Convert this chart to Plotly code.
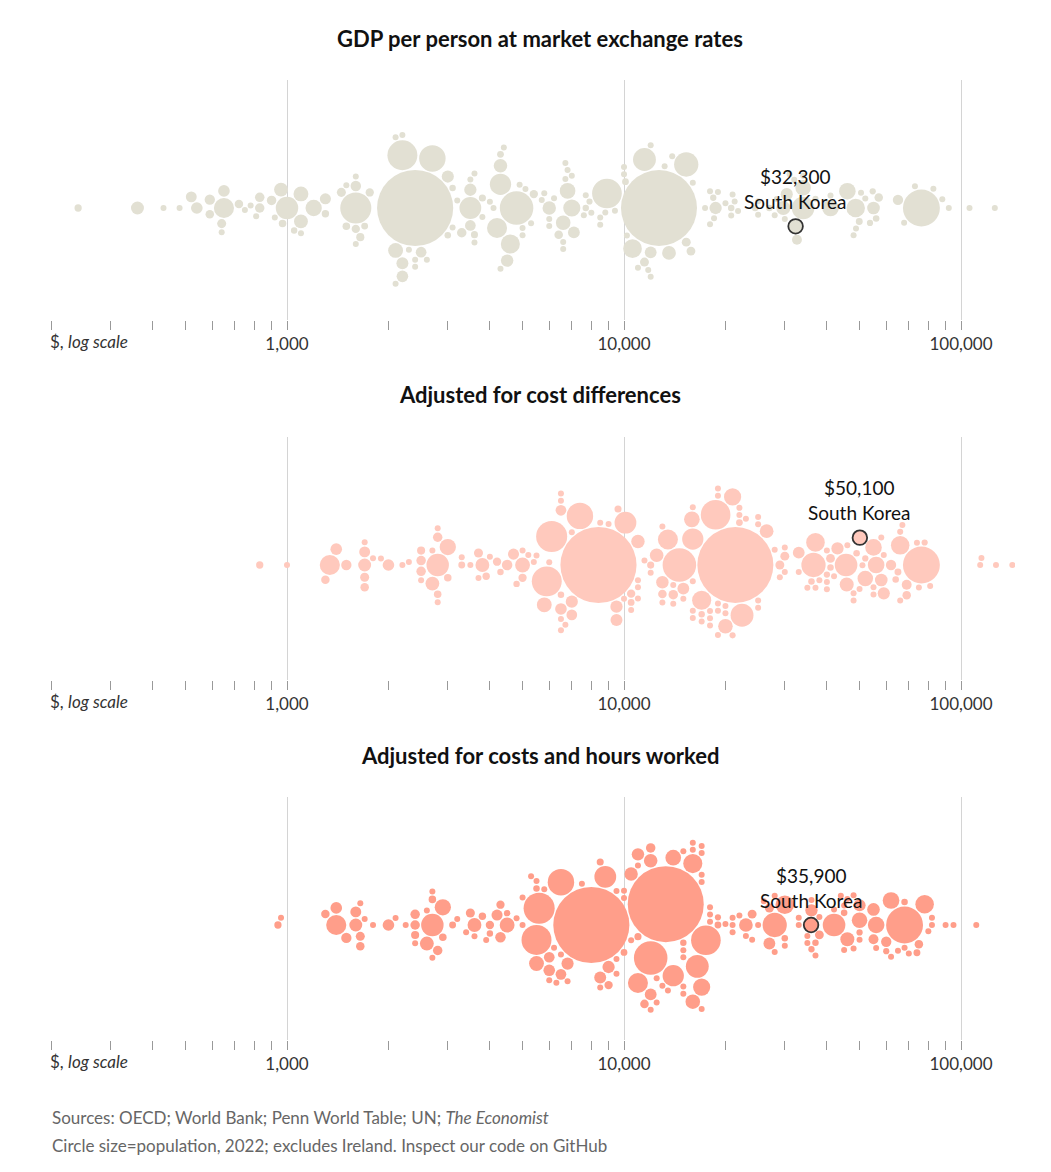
import math
import plotly.graph_objects as go

# name, population (m), GDP per person market $, PPP-adjusted $, adjusted for costs and hours $
names = ["China","India","United States","Indonesia","Pakistan","Nigeria","Brazil","Bangladesh","Russia","Mexico",
"Japan","Ethiopia","Philippines","Egypt","DR Congo","Vietnam","Iran","Turkey","Germany","Thailand",
"Britain","France","Tanzania","South Africa","Italy","Kenya","Myanmar","Colombia","South Korea","Uganda",
"Sudan","Spain","Argentina","Algeria","Iraq","Afghanistan","Poland","Canada","Morocco","Saudi Arabia",
"Ukraine","Angola","Uzbekistan","Yemen","Peru","Malaysia","Ghana","Mozambique","Nepal","Madagascar",
"Venezuela","Ivory Coast","Cameroon","Australia","Niger","Taiwan","Sri Lanka","Burkina Faso","Mali","Chile",
"Romania","Kazakhstan","Malawi","Zambia","Syria","Ecuador","Netherlands","Senegal","Guatemala","Chad",
"Somalia","Zimbabwe","Cambodia","Rwanda","Guinea","Benin","Burundi","Bolivia","Tunisia","Haiti",
"Belgium","Jordan","Dominican Rep.","Czechia","Sweden","Greece","Portugal","Azerbaijan","Hungary","Honduras",
"UAE","Belarus","Israel","Tajikistan","Austria","Switzerland","Papua New Guinea","Togo","Sierra Leone","Laos",
"Hong Kong","Paraguay","Serbia","Bulgaria","Libya","Lebanon","El Salvador","Kyrgyzstan","Nicaragua","Turkmenistan",
"Denmark","Singapore","Finland","Congo","Slovakia","Norway","Oman","Palestine","Costa Rica","Liberia",
"CAR","New Zealand","Mauritania","Kuwait","Panama","Croatia","Georgia","Eritrea","Uruguay","Mongolia",
"Bosnia","Armenia","Albania","Lithuania","Qatar","Jamaica","Moldova","Namibia","Gambia","Botswana",
"Gabon","Lesotho","Slovenia","North Macedonia","Latvia","Guinea-Bissau","Bahrain","Equatorial Guinea","Trinidad","Estonia",
"Timor-Leste","Mauritius","Cyprus","Eswatini","Djibouti","Fiji","Comoros","Guyana","Bhutan","Solomon Islands",
"Montenegro","Luxembourg","Suriname","Cape Verde","Malta","Brunei","Belize","Bahamas","Maldives","Iceland",
"Vanuatu","Barbados","Samoa","Sao Tome","St Lucia","Kiribati","Grenada","Seychelles","Tonga","Micronesia",
"Antigua","Dominica","St Kitts","Marshall Islands","Tuvalu","Nauru","Palau"]
population = [1412,1417,333,275,236,219,215,171,144,128,
125,123,116,111,99,98,89,85,84,72,
67,68,65,60,59,54,54,52,52,47,
47,48,46,45,44,41,37,39,37,36,
38,36,35,33,34,34,33,33,30,29,
28,28,27,26,26,24,22,22,22,19.6,
19,19.6,20,20,22,18,17.7,17,17,17.7,
17.6,16,16.8,13.8,13.9,13.4,12.9,12.2,12.4,11.6,
11.7,11.3,11.2,10.5,10.5,10.4,10.3,10.1,9.7,10.4,
9.4,9.2,9.6,10,9.0,8.8,10.1,8.8,8.6,7.5,
7.3,6.8,6.7,6.8,6.8,5.5,6.3,6.6,6.9,6.4,
5.9,5.6,5.6,6.0,5.4,5.5,4.6,5.0,5.2,5.3,
5.6,5.1,4.7,4.3,4.4,3.9,3.7,3.7,3.4,3.4,
3.2,2.8,2.8,2.8,2.7,2.8,2.5,2.6,2.7,2.6,
2.4,2.3,2.1,2.1,1.9,2.1,1.5,1.7,1.5,1.3,
1.3,1.3,1.25,1.2,1.1,0.93,0.84,0.81,0.78,0.72,
0.63,0.65,0.62,0.59,0.53,0.45,0.4,0.41,0.52,0.38,
0.33,0.28,0.22,0.23,0.18,0.13,0.13,0.1,0.1,0.11,
0.09,0.07,0.05,0.04,0.01,0.01,0.018]
gdp_market = [12700,2400,76300,4800,1600,2200,8900,2700,15300,11500,
34000,1000,3500,4300,650,4200,4600,10600,48700,7000,
46000,41000,1200,6800,34000,2100,1100,6600,32300,960,
1100,29700,13600,4300,6000,360,18700,55000,3500,30400,
4500,3000,2200,650,7100,12000,2200,540,1300,520,
3500,2500,1600,65000,590,32600,3300,830,830,15300,
15800,11500,640,1450,900,6400,57000,1600,5400,720,
590,1650,1760,970,1500,1300,240,3600,3800,1700,
49900,4300,10100,27000,56000,20800,24500,7700,18400,3000,
53700,7900,54700,1050,52000,92000,3100,920,480,2100,
48800,6200,9400,13900,6700,4100,5100,1600,2300,8000,
67800,82800,50500,2600,21300,106000,25000,3800,13200,750,
430,48000,2100,41000,17400,18500,6600,640,20800,5000,
7600,7000,6800,25000,88000,6000,5700,4900,810,7700,
8800,1100,28400,6600,21800,780,30000,8500,18000,28000,
2400,10200,32000,4000,3100,5300,1500,18000,3500,2200,
10000,126000,5800,4300,34000,37000,6700,31000,11800,73000,
3200,20000,3600,2400,11000,1600,10000,16000,4400,3600,
19000,8500,21000,6000,5000,12000,12000]
gdp_ppp = [21400,8400,76300,14600,6100,5900,18700,7400,36500,22400,
45600,2800,10100,16000,1340,13500,17000,37000,66000,21000,
55000,56000,3000,15900,52000,5800,5000,20000,50100,2700,
3800,45800,26500,12500,11000,1700,43000,58000,9500,59000,
13000,7000,9500,2000,15000,33000,6500,1400,4700,1700,
7000,6500,4500,62000,1500,69000,14000,2500,2500,29000,
41000,30000,1700,3700,2800,13000,69000,4200,10500,1700,
1300,2500,5000,2800,3000,3900,830,9600,12000,3300,
65000,10500,22000,49000,64000,36000,41000,17000,40000,6500,
78000,21000,52000,4800,66000,81000,4300,2500,1900,8500,
66000,15000,23000,30000,22000,11000,11000,5400,6500,17000,
74000,127000,59000,4000,37000,114000,42000,6700,25000,1700,
1000,51000,6500,55000,38000,40000,20000,1800,29000,14000,
19000,19000,18000,48000,115000,11500,16000,10500,2700,18000,
19000,2800,50000,20000,40000,2200,58000,19000,28000,46000,
5000,25000,48000,10000,6000,13000,3500,40000,12000,2800,
25000,142000,19000,9000,55000,75000,11000,35000,22000,67000,
3300,16000,6500,5200,18000,2300,16000,33000,7000,3700,
25000,14000,30000,6500,5500,13000,16000]
gdp_hours = [13300,8000,68000,12000,5600,5500,17500,6500,28000,16500,
42000,2700,8800,14000,1400,11000,16000,30000,78000,17000,
56000,62000,2900,14000,50000,5500,4500,16000,35900,2600,
3600,46000,23000,12000,10500,1600,36000,55000,9000,50000,
11000,6800,8500,2000,12000,27000,6000,1400,4200,1600,
6500,6000,4300,60000,1500,55000,12000,2400,2400,24000,
38000,27000,1650,3500,2800,11500,75000,4000,9000,1650,
1300,2400,4300,2700,2900,3800,940,8500,11000,3100,
74000,10000,19000,45000,68000,30000,37000,15000,36000,5500,
60000,19000,50000,4500,68000,82000,4000,2400,1800,7500,
56000,13000,21000,28000,21000,10000,9500,5000,5500,16000,
82000,80000,62000,3900,35000,95000,35000,6500,21000,1650,
960,48000,6000,45000,33000,36000,18000,1700,26000,12500,
17000,17000,15000,45000,90000,10500,15000,9500,2600,16000,
17000,2700,46000,18000,37000,2100,48000,18000,25000,42000,
4800,22000,44000,9500,5800,12000,3400,38000,11000,2700,
23000,111000,17000,8500,50000,65000,10000,33000,20000,70000,
3200,15000,6200,5000,17000,2250,15000,30000,6800,3600,
24000,13500,28000,6300,5300,12500,15000]

titles = ["GDP per person at market exchange rates", "Adjusted for cost differences",
          "Adjusted for costs and hours worked"]
series = [gdp_market, gdp_ppp, gdp_hours]
colors = ["#E2E0D3", "#FFC9BD", "#FF9E8A"]
highlight = "South Korea"
major_ticks = [1000, 10000, 100000]
major_text = ["1,000", "10,000", "100,000"]
minor_ticks = [200,300,400,500,600,700,800,900,2000,3000,4000,5000,6000,7000,8000,9000,
               20000,30000,40000,50000,60000,70000,80000,90000]

W, H = 1051, 1172
OFF = 8  # page body margin
X0, X1 = 48 - OFF, 1015 - OFF
LOG0 = 3 + (48 - 287) / 337
LOG1 = 3 + (1015 - 287) / 337
panels_px = [(80 - OFF, 320 - OFF), (437 - OFF, 680 - OFF), (797 - OFF, 1040 - OFF)]
CENTER_ABOVE = 128  # px from panel top to swarm centre

def px_x(v):
    return (math.log10(v) - LOG0) / (LOG1 - LOG0) * (X1 - X0)

def radius(p):
    return max(3.0, 38 * math.sqrt(p / 1412))

def swarm(vals):
    order = sorted(range(len(vals)), key=lambda i: -population[i])
    placed = []
    ys = [0.0] * len(vals)
    pad = 1.2
    for i in order:
        xi, ri = px_x(vals[i]), radius(population[i])
        cands = [0.0]
        for (xj, yj, rj) in placed:
            d = ri + rj + pad
            dx = xi - xj
            if abs(dx) < d:
                dy = math.sqrt(d * d - dx * dx)
                cands += [yj + dy, yj - dy]
        cands.sort(key=abs)
        for c in cands:
            ok = True
            for (xj, yj, rj) in placed:
                d = ri + rj + pad - 0.01
                if (xi - xj) ** 2 + (c - yj) ** 2 < d * d:
                    ok = False
                    break
            if ok:
                ys[i] = c
                break
        placed.append((xi, ys[i], ri))
    return ys

fig = go.Figure()
annotations = []
for k, vals in enumerate(series):
    top, bot = panels_px[k]
    ax = "" if k == 0 else str(k + 1)
    ys = swarm(vals)
    sizes = [2 * radius(p) for p in population]
    idx = [i for i in range(len(names)) if names[i] != highlight]
    fig.add_trace(go.Scatter(
        x=[vals[i] for i in idx], y=[ys[i] for i in idx], mode="markers",
        marker=dict(size=[sizes[i] for i in idx], color=colors[k], opacity=1, line=dict(width=0)),
        text=[names[i] for i in idx], hoverinfo="text", xaxis="x" + ax, yaxis="y" + ax, showlegend=False))
    h = names.index(highlight)
    fig.add_trace(go.Scatter(
        x=[vals[h]], y=[ys[h]], mode="markers",
        marker=dict(size=sizes[h], color=colors[k], opacity=1, line=dict(width=1.8, color="#333333")),
        text=[highlight], hoverinfo="text", xaxis="x" + ax, yaxis="y" + ax, showlegend=False))
    annotations.append(dict(x=math.log10(vals[h]), y=ys[h] + radius(population[h]) + 4,
        xref="x" + ax, yref="y" + ax, text=f"${vals[h]:,}<br>{highlight}", showarrow=False,
        yanchor="bottom", font=dict(size=19, color="#111"), align="center"))
    dom = [1 - bot / H, 1 - top / H]
    span = bot - top
    fig.update_layout(**{
        "xaxis" + ax: dict(type="log", range=[LOG0, LOG1], domain=[X0 / W, X1 / W], anchor="y" + ax,
            tickvals=major_ticks, ticktext=major_text, ticks="outside", ticklen=9, tickcolor="#999",
            showgrid=True, gridcolor="#d4d4d4", gridwidth=1, zeroline=False, showline=False,
            tickfont=dict(size=17, color="#333"),
            minor=dict(tickvals=minor_ticks, ticks="outside", ticklen=9, tickcolor="#999", showgrid=False)),
        "yaxis" + ax: dict(range=[-(span - CENTER_ABOVE), CENTER_ABOVE], domain=dom, anchor="x" + ax,
            visible=False, fixedrange=True),
    })
    annotations.append(dict(x=(540 - OFF) / W, y=1 - (top - 42) / H, xref="paper", yref="paper",
        yanchor="middle", text=f"<b>{titles[k]}</b>", showarrow=False, font=dict(size=22, color="#111")))
    annotations.append(dict(x=X0 / W, y=1 - (bot + 21) / H, xref="paper", yref="paper",
        yanchor="middle", text="$, <i>log scale</i>", showarrow=False, xanchor="left",
        font=dict(size=17, color="#333")))

annotations.append(dict(x=(50 - OFF) / W, y=1 - (1117 - OFF) / H, xref="paper", yref="paper", xanchor="left",
    yanchor="middle", text="Sources: OECD; World Bank; Penn World Table; UN; <i>The Economist</i>", showarrow=False,
    font=dict(size=17, color="#666")))
annotations.append(dict(x=(50 - OFF) / W, y=1 - (1145 - OFF) / H, xref="paper", yref="paper", xanchor="left",
    yanchor="middle", text="Circle size=population, 2022; excludes Ireland. Inspect our code on GitHub", showarrow=False,
    font=dict(size=17, color="#666")))

fig.update_layout(width=W, height=H, margin=dict(l=0, r=0, t=0, b=0),
    paper_bgcolor="white", plot_bgcolor="white", font=dict(family="Lato, Noto Sans, sans-serif"),
    annotations=annotations)
fig.write_html("out.html")
